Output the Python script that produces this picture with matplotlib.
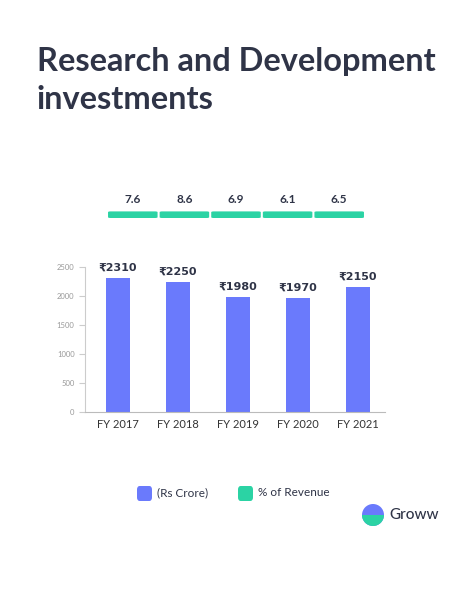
import matplotlib
matplotlib.use("Agg")
import matplotlib.pyplot as plt
from matplotlib.patches import FancyBboxPatch, Circle, Wedge
import numpy as np

plt.rcParams['font.family'] = ['Lato', 'DejaVu Sans']

years = ["FY 2017", "FY 2018", "FY 2019", "FY 2020", "FY 2021"]
rd_crore = [2310, 2250, 1980, 1970, 2150]
pct_revenue = [7.6, 8.6, 6.9, 6.1, 6.5]
bar_labels = ["₹2310", "₹2250", "₹1980", "₹1970", "₹2150"]

BLUE = "#6a7afc"
GREEN = "#2bd3a4"
DARK = "#2f3447"
W, H = 474, 592
fig = plt.figure(figsize=(4.74, 5.92), dpi=100)

fig.text(37/W, 1-62/H, "Research and Development", fontsize=23.4, fontweight='bold', color=DARK, va='center')
fig.text(37/W, 1-100/H, "investments", fontsize=23.4, fontweight='bold', color=DARK, va='center')

# percentage strip
axp = fig.add_axes([107/W, 1-218/H, 258/W, 30/H])
x = np.arange(len(years))
for i, v in enumerate(pct_revenue):
    axp.add_patch(FancyBboxPatch((i+0.02, 0), 0.96, 0.22, boxstyle="round,pad=0,rounding_size=0.05",
                                 fc=GREEN, ec='none', mutation_aspect=0.5))
    axp.text(i+0.5, 0.62, f"{v}", ha='center', va='center', fontsize=8.5, fontweight='bold', color=DARK)
axp.set_xlim(0, 5); axp.set_ylim(0, 1); axp.axis('off')

# bar chart
ax = fig.add_axes([85/W, 1-412/H, 300/W, 145/H])
ax.bar(x, rd_crore, width=0.4, color=BLUE)
for i, (v, l) in enumerate(zip(rd_crore, bar_labels)):
    ax.text(i, v + 90, l, ha='center', va='bottom', fontsize=8, fontweight='bold', color=DARK,
            family=['DejaVu Sans'])
ax.set_xlim(-0.55, 4.45)
ax.set_ylim(0, 2500)
ax.set_yticks([0, 500, 1000, 1500, 2000, 2500])
ax.set_xticks(x)
ax.set_xticklabels(years, fontsize=8, color="#333333")
ax.tick_params(axis='y', labelsize=5.5, labelcolor="#999999", color="#cccccc", length=4)
ax.tick_params(axis='x', length=0, pad=5)
for s in ['top', 'right']:
    ax.spines[s].set_visible(False)
ax.spines['left'].set_color('#cccccc')
ax.spines['bottom'].set_color('#bbbbbb')

# legend
for (px, col, lab) in [(137, BLUE, "(Rs Crore)"), (238, GREEN, "% of Revenue")]:
    fig.patches.append(FancyBboxPatch((px/W, 1-501/H), 15/W, 15/H, boxstyle="round,pad=0,rounding_size=0.006",
                                      transform=fig.transFigure, fc=col, ec='none'))
    fig.text((px+20)/W, 1-493/H, lab, fontsize=8.5, color=DARK, va='center')

# logo
axl = fig.add_axes([362/W, 1-526/H, 22/W, 22/H])
axl.add_patch(Circle((0.5, 0.5), 0.5, fc=BLUE, ec='none'))
axl.add_patch(Wedge((0.5, 0.5), 0.5, 180, 360, fc=GREEN, ec='none'))
axl.set_xlim(0, 1); axl.set_ylim(0, 1); axl.set_aspect('equal'); axl.axis('off')
fig.text(389/W, 1-515/H, "Groww", fontsize=11, color=DARK, va='center', fontweight='medium')

fig.savefig("out.png", dpi=100, facecolor='white')
